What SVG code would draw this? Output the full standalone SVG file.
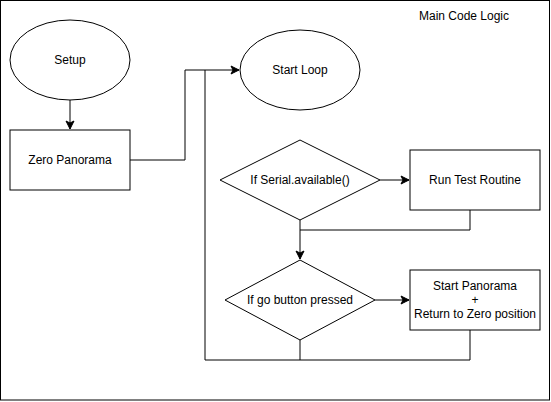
<svg xmlns="http://www.w3.org/2000/svg" width="551" height="402" viewBox="0 0 551 402">
<style>
.s{fill:#fff;stroke:#000;stroke-width:1}
.c{fill:none;stroke:#000;stroke-width:1}
text{font-family:"Liberation Sans",Arial,sans-serif;font-size:12px;fill:#000;text-anchor:middle}
</style>
<defs>
<marker id="a" viewBox="0 0 10 10" refX="9" refY="5" markerWidth="10" markerHeight="10" markerUnits="userSpaceOnUse" orient="auto">
<path d="M1,1 L9,5 L1,9 L3,5 Z" fill="#000" stroke="#000" stroke-width="1"/>
</marker>
</defs>
<rect x="0.5" y="0.5" width="549" height="399.5" fill="#fff" stroke="#000"/>
<g id="title"><text x="464" y="20">Main Code Logic</text></g>
<g id="connectors">
<path class="c" d="M70,100 V129" marker-end="url(#a)"/>
<path class="c" d="M130,160 H185 V70 H239" marker-end="url(#a)"/>
<path class="c" d="M380,180 H409" marker-end="url(#a)"/>
<path class="c" d="M470,210 V230 H300"/>
<path class="c" d="M300,220 V259" marker-end="url(#a)"/>
<path class="c" d="M375,300 H409" marker-end="url(#a)"/>
<path class="c" d="M470,330 V360 H205 V70"/>
<path class="c" d="M300,340 V360"/>
</g>
<g id="setup"><ellipse class="s" cx="70" cy="60" rx="60" ry="40"/><text x="70" y="64">Setup</text></g>
<g id="zero"><rect class="s" x="10" y="130" width="120" height="60"/><text x="70" y="164">Zero Panorama</text></g>
<g id="startloop"><ellipse class="s" cx="300" cy="70" rx="60" ry="40"/><text x="300" y="74">Start Loop</text></g>
<g id="serial"><path class="s" d="M300,140 L380,180 L300,220 L220,180 Z"/><text x="300" y="184">If Serial.available()</text></g>
<g id="test"><rect class="s" x="410" y="150" width="130" height="60"/><text x="475" y="184">Run Test Routine</text></g>
<g id="gobutton"><path class="s" d="M300,260 L375,300 L300,340 L225,300 Z"/><text x="300" y="304">If go button pressed</text></g>
<g id="panorama"><rect class="s" x="410" y="270" width="130" height="60"/><text x="475" y="290">Start Panorama</text><text x="475" y="304">+</text><text x="475" y="318">Return to Zero position</text></g>
</svg>
